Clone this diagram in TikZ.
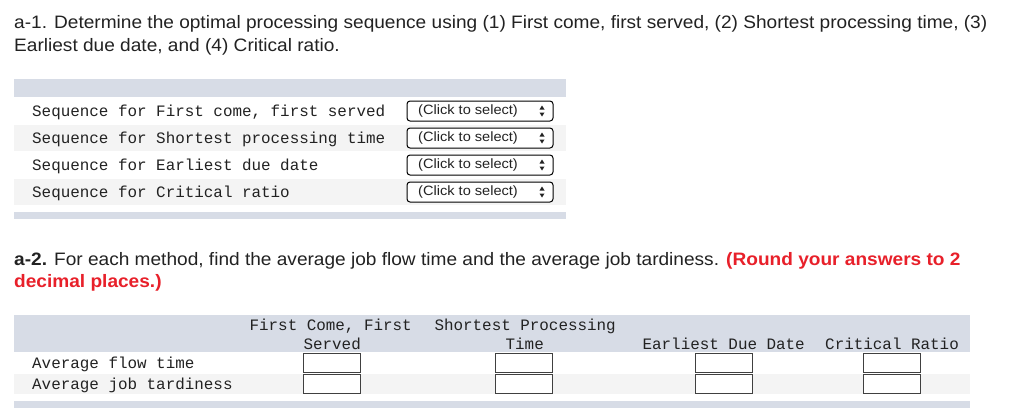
\documentclass[tikz,border=0pt]{standalone}
\usepackage{fontspec}
\setmainfont{Liberation Sans}
\setmonofont{Liberation Mono}
\definecolor{band}{HTML}{D7DCE6}
\definecolor{light}{HTML}{F4F4F4}
\definecolor{redt}{HTML}{E8202A}
\definecolor{txt}{HTML}{222222}
\begin{document}
\begin{tikzpicture}[x=1pt,y=-1pt,
  para/.style={anchor=base west,inner sep=0,font=\fontsize{18}{20}\selectfont,text=txt,xscale=1.06,transform shape},
  mono/.style={anchor=west,inner sep=0,font=\fontsize{15.9}{18}\ttfamily,text=txt},
  hdr/.style={anchor=east,inner sep=0,font=\fontsize{15.9}{18}\ttfamily,text=txt},
  dd/.style={draw=black,line width=1pt,rounded corners=3pt,fill=white,minimum width=146pt,minimum height=20pt,inner sep=0},
  inbox/.style={draw=black!75,line width=0.8pt,fill=white,minimum width=57pt,minimum height=19pt,inner sep=0}]
\useasboundingbox (0,0) rectangle (1024,416);
\fill[white] (0,0) rectangle (1024,416);
\node[para] (t1) at (14,28) {a-1. Determine the optimal processing sequence using (1) First come, first served, (2) Shortest processing time, (3)};
\node[para] (t2) at (14,51) {Earliest due date, and (4) Critical ratio.};
% table 1
\fill[band] (14,79) rectangle (566,97);
\fill[light] (14,125) rectangle (566,151);
\fill[light] (14,179) rectangle (566,205);
\fill[band] (14,212) rectangle (566,219);
\foreach \y/\t [count=\i] in {112/{Sequence for First come, first served},139/Sequence for Shortest processing time,166/Sequence for Earliest due date,193/Sequence for Critical ratio}{
  \node[mono] (r\i) at (32,\y) {\t};
  \node[dd] (d\i) at (480,\y-1) {};
  \node[anchor=west,inner sep=0,font=\fontsize{13.5}{15}\selectfont,text=txt,xscale=1.08,transform shape] (dt\i) at (418,\y-1) {(Click to select)};
  \fill[txt] (539.5,\y-2.5) -- (544.5,\y-2.5) -- (542,\y-6.5) -- cycle;
  \fill[txt] (539.5,\y+0.5) -- (544.5,\y+0.5) -- (542,\y+4.5) -- cycle;
}
% a-2
\node[para] (t3) at (14,265) {\textbf{a-2.} For each method, find the average job flow time and the average job tardiness. \textcolor{redt}{\textbf{(Round your answers to 2}}};
\node[para] (t4) at (14,287) {\textcolor{redt}{\textbf{decimal places.)}}};
% table 2
\fill[band] (14,315) rectangle (970,352);
\fill[light] (14,374) rectangle (970,394);
\fill[band] (14,401) rectangle (970,408);
\node[hdr] (h1a) at (412,326) {First Come, First};
\node[hdr] (h1b) at (361,344) {Served};
\node[hdr] (h2a) at (616,326) {Shortest Processing};
\node[hdr] (h2b) at (544,344) {Time};
\node[hdr] (h3) at (805,344) {Earliest Due Date};
\node[hdr] (h4) at (959,344) {Critical Ratio};
\node[mono] (a1) at (32,364) {Average flow time};
\node[mono] (a2) at (32,385) {Average job tardiness};
\foreach \x [count=\j] in {332,524,724,892}{
  \node[inbox] (ba\j) at (\x,363) {};
  \node[inbox] (bb\j) at (\x,384) {};
}
\end{tikzpicture}
\end{document}
